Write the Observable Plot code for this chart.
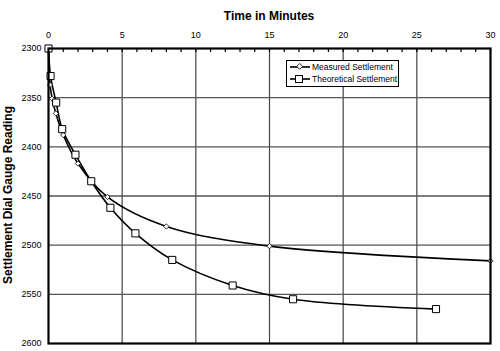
<!DOCTYPE html>
<html>
<head>
<meta charset="utf-8">
<script src="https://cdn.jsdelivr.net/npm/d3@7"></script>
<script src="https://cdn.jsdelivr.net/npm/@observablehq/plot@0.6"></script>
<style>
  html, body { margin: 0; padding: 0; background: #fff; }
  #wrap { position: relative; width: 500px; height: 351px; font-family: "Liberation Sans", Arial, sans-serif; }
  #xtitle { position: absolute; left: 48px; width: 442px; top: 9px; text-align: center; font-weight: bold; font-size: 12px; }
  #ytitle { position: absolute; left: 8px; top: 195px; transform: translate(-50%, -50%) rotate(-90deg); transform-origin: center; white-space: nowrap; font-weight: bold; font-size: 12px; }
  #legend { position: absolute; left: 286px; top: 60px; width: 111px; height: 25px; border: 1.6px solid #000; background: #fff; font-size: 8.5px; }
  #legend .row { position: absolute; left: 3px; height: 12px; display: flex; align-items: center; white-space: nowrap; }
  #legend svg { margin-right: 2px; }
</style>
</head>
<body>
<div id="wrap">
  <div id="chart"></div>
  <div id="xtitle">Time in Minutes</div>
  <div id="ytitle">Settlement Dial Gauge Reading</div>
  <div id="legend"></div>
</div>
<script>
// Measured settlement (time in minutes, dial reading)
const measuredTime = [0, 0.1, 0.25, 0.5, 1, 2, 4, 8, 15, 30];
const measuredReading = [2300, 2337, 2351, 2366, 2388, 2417, 2451, 2481, 2501, 2516];
// Theoretical settlement
const theoreticalTime = [0, 0.14, 0.52, 0.93, 1.83, 2.9, 4.2, 5.9, 8.4, 12.5, 16.6, 26.3];
const theoreticalReading = [2300, 2328, 2355, 2382, 2408, 2435, 2462, 2488, 2515, 2541, 2555, 2565];
// Axis ticks
const xTicks = [0, 5, 10, 15, 20, 25, 30];
const xGrid = [5, 10, 15, 20, 25];
const xMinor = d3.range(0, 31, 1);
const yTicks = [2300, 2350, 2400, 2450, 2500, 2550, 2600];
const yGrid = [2350, 2400, 2450, 2500, 2550];
const seriesNames = ["Measured Settlement", "Theoretical Settlement"];

const measured = measuredTime.map((t, i) => ({t, r: measuredReading[i]}));
const theoretical = theoreticalTime.map((t, i) => ({t, r: theoreticalReading[i]}));

const chart = Plot.plot({
  width: 500,
  height: 351,
  marginLeft: 48,
  marginRight: 10,
  marginTop: 48,
  marginBottom: 8,
  style: {fontFamily: "'Liberation Sans', Arial, sans-serif", fontSize: "9px", background: "#fff", color: "#000"},
  x: {domain: [0, 30]},
  y: {domain: [2300, 2600], reverse: true},
  marks: [
    Plot.ruleX(xGrid, {stroke: "#444", strokeWidth: 1.2}),
    Plot.ruleY(yGrid, {stroke: "#555", strokeWidth: 1.3}),
    Plot.ruleX(xMinor, {y1: 2300, y2: 2304, stroke: "#000", strokeWidth: 1.2}),
    Plot.axisX(xTicks, {anchor: "top", tickSize: 0, tickPadding: 11, label: null, fontSize: 9, tickFormat: d => String(d)}),
    Plot.axisY(yTicks, {anchor: "left", tickSize: 0, tickPadding: 7, label: null, fontSize: 9, tickFormat: d => String(d)}),
    Plot.line(measured, {x: "t", y: "r", curve: "catmull-rom", stroke: "#000", strokeWidth: 1.6}),
    Plot.line(theoretical, {x: "t", y: "r", curve: "catmull-rom", stroke: "#000", strokeWidth: 1.6}),
    Plot.dot(measured, {x: "t", y: "r", symbol: "diamond2", r: 2.4, fill: "#fff", stroke: "#000", strokeWidth: 0.8}),
    Plot.dot(theoretical, {x: "t", y: "r", symbol: "square", r: 4, fill: "#fff", stroke: "#000", strokeWidth: 1}),
    Plot.frame({stroke: "#000", strokeWidth: 2.2})
  ]
});
document.getElementById("chart").appendChild(chart);

// Legend
const legend = document.getElementById("legend");
seriesNames.forEach((name, i) => {
  const row = document.createElement("div");
  row.className = "row";
  row.style.top = (i === 0 ? 0 : 12) + "px";
  const sym = i === 0
    ? '<rect x="7" y="3" width="4.2" height="4.2" transform="rotate(45 9 6)" fill="#fff" stroke="#000" stroke-width="0.8"/>'
    : '<rect x="5.5" y="2.5" width="7" height="7" fill="#fff" stroke="#000" stroke-width="1"/>';
  row.innerHTML = '<svg width="20" height="12"><line x1="0" x2="20" y1="6" y2="6" stroke="#000" stroke-width="1.6"/>' + sym + '</svg><span>' + name + '</span>';
  legend.appendChild(row);
});
</script>
</body>
</html>
